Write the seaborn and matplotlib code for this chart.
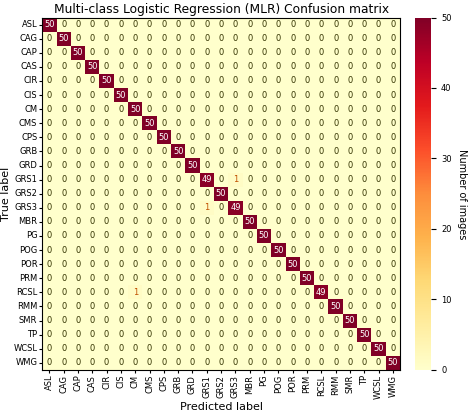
import seaborn as sns
import numpy as np
import matplotlib.pyplot as plt

labels = ['ASL', 'CAG', 'CAP', 'CAS', 'CIR', 'CIS', 'CM', 'CMS', 'CPS', 'GRB', 'GRD',
          'GRS1', 'GRS2', 'GRS3', 'MBR', 'PG', 'POG', 'POR', 'PRM', 'RCSL', 'RMM',
          'SMR', 'TP', 'WCSL', 'WMG']
diag = [50, 50, 50, 50, 50, 50, 50, 50, 50, 50, 50,
        49, 50, 49, 50, 50, 50, 50, 50, 49, 50,
        50, 50, 50, 50]
# (true, predicted, count) misclassifications
errors = [('GRS1', 'GRS3', 1), ('GRS3', 'GRS1', 1), ('RCSL', 'CM', 1)]

cm = np.diag(diag)
for t, p, c in errors:
    cm[labels.index(t), labels.index(p)] = c

fig = plt.figure(figsize=(4.74, 4.17), dpi=100)
ax = fig.add_axes([0.089, 0.113, 0.755, 0.845])
cax = fig.add_axes([0.875, 0.113, 0.035, 0.845])
sns.heatmap(cm, annot=True, fmt='d', cmap='YlOrRd', vmin=0, vmax=50, ax=ax, cbar_ax=cax,
            xticklabels=labels, yticklabels=labels, annot_kws={'fontsize': 6})
for txt in ax.texts:
    v = int(txt.get_text())
    if v == 0:
        txt.set_color('#333300')
    elif v < 25:
        txt.set_color('#c05000')
    else:
        txt.set_color('white')
for s in ax.spines.values():
    s.set_visible(True)
    s.set_linewidth(0.8)
ax.tick_params(labelsize=6, length=2, pad=1.5)
plt.setp(ax.get_xticklabels(), rotation=90)
plt.setp(ax.get_yticklabels(), rotation=0)
ax.set_title('Multi-class Logistic Regression (MLR) Confusion matrix', fontsize=8.8, pad=3)
ax.set_xlabel('Predicted label', fontsize=8, labelpad=2)
ax.set_ylabel('True label', fontsize=8, labelpad=2)
cax.tick_params(labelsize=6)
cax.set_ylabel('Number of images', rotation=270, labelpad=11, fontsize=7)
fig.savefig('out.png', dpi=100)
